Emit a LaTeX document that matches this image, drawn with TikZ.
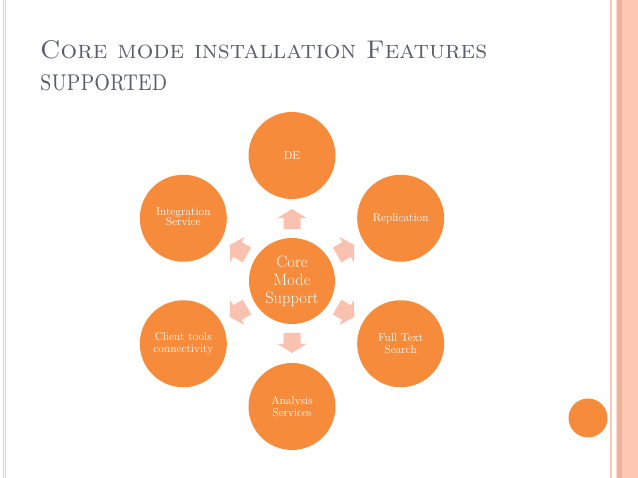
\documentclass[tikz,border=0pt]{standalone}
\usetikzlibrary{calc}
\definecolor{orng}{HTML}{F68B3B}
\definecolor{arrowpink}{HTML}{F9C1B0}
\definecolor{titlegray}{HTML}{5A5E6B}
\definecolor{stripe1}{HTML}{F5CABB}
\definecolor{stripe2}{HTML}{F0B29A}
\definecolor{stripe3}{HTML}{FCC7B3}
\tikzset{
  bubble/.style={circle, fill=orng, text=white, align=center, inner sep=0pt,
    minimum size=87pt, font=\fontsize{11.5}{12}\selectfont},
  corebubble/.style={bubble, minimum size=86pt, font=\fontsize{16.5}{18}\selectfont},
  pics/barrow/.style={code={
    \fill[arrowpink] (-10,-8.5) -- (1,-8.5) -- (1,-14.5) -- (10,0) -- (1,14.5) -- (1,8.5) -- (-10,8.5) -- cycle;}},
  titletext/.style={text=titlegray, anchor=base west, inner sep=0pt}
}
\begin{document}
\begin{tikzpicture}[x=1pt,y=1pt]
\useasboundingbox (0,0) rectangle (638,-478);
% borders
\fill[stripe3] (622,0) rectangle (638,-478);
\fill[stripe2] (617,0) rectangle (622,-478);
\fill[stripe1!60] (616,0) rectangle (617,-478);
\fill[stripe1] (610,0) rectangle (612,-478);
\fill[stripe1] (3,0) rectangle (4,-478);
\fill[stripe1] (5.2,0) rectangle (6.2,-478);
% title
\node[titletext] (t1) at (40,-59) {\resizebox{447pt}{18pt}{\textsc{Core mode installation Features}}};
\node[titletext] (t2) at (40,-91) {\resizebox{127pt}{16pt}{\textsc{supported}}};
% circles
\node[corebubble] (core) at (292,-281) {Core\\Mode\\Support};
\node[bubble] (de) at ($(core)+(90:125.5)$) {DE};
\node[bubble] (rep) at ($(core)+(30:125.5)$) {Replication};
\node[bubble] (fts) at ($(core)+(-30:125.5)$) {Full Text\\Search};
\node[bubble] (ana) at ($(core)+(-90:125.5)$) {Analysis\\Services};
\node[bubble] (cli) at ($(core)+(-150:125.5)$) {Client tools\\connectivity};
\node[bubble] (int) at ($(core)+(150:125.5)$) {\raisebox{7pt}{\begin{tabular}{@{}c@{}}Integration\\[-2pt]Service\end{tabular}}};
% block arrows
\pic[rotate=90] at ($(core)!0.494!(de)$) {barrow};
\pic[rotate=30] at ($(core)!0.494!(rep)$) {barrow};
\pic[rotate=-30] at ($(core)!0.494!(fts)$) {barrow};
\pic[rotate=-90] at ($(core)!0.494!(ana)$) {barrow};
\pic[rotate=-150] at ($(core)!0.494!(cli)$) {barrow};
\pic[rotate=150] at ($(core)!0.494!(int)$) {barrow};
% decorative dot
\node[circle, fill=orng, minimum size=39pt, inner sep=0pt] (dot) at (588,-418) {};
\end{tikzpicture}
\end{document}
